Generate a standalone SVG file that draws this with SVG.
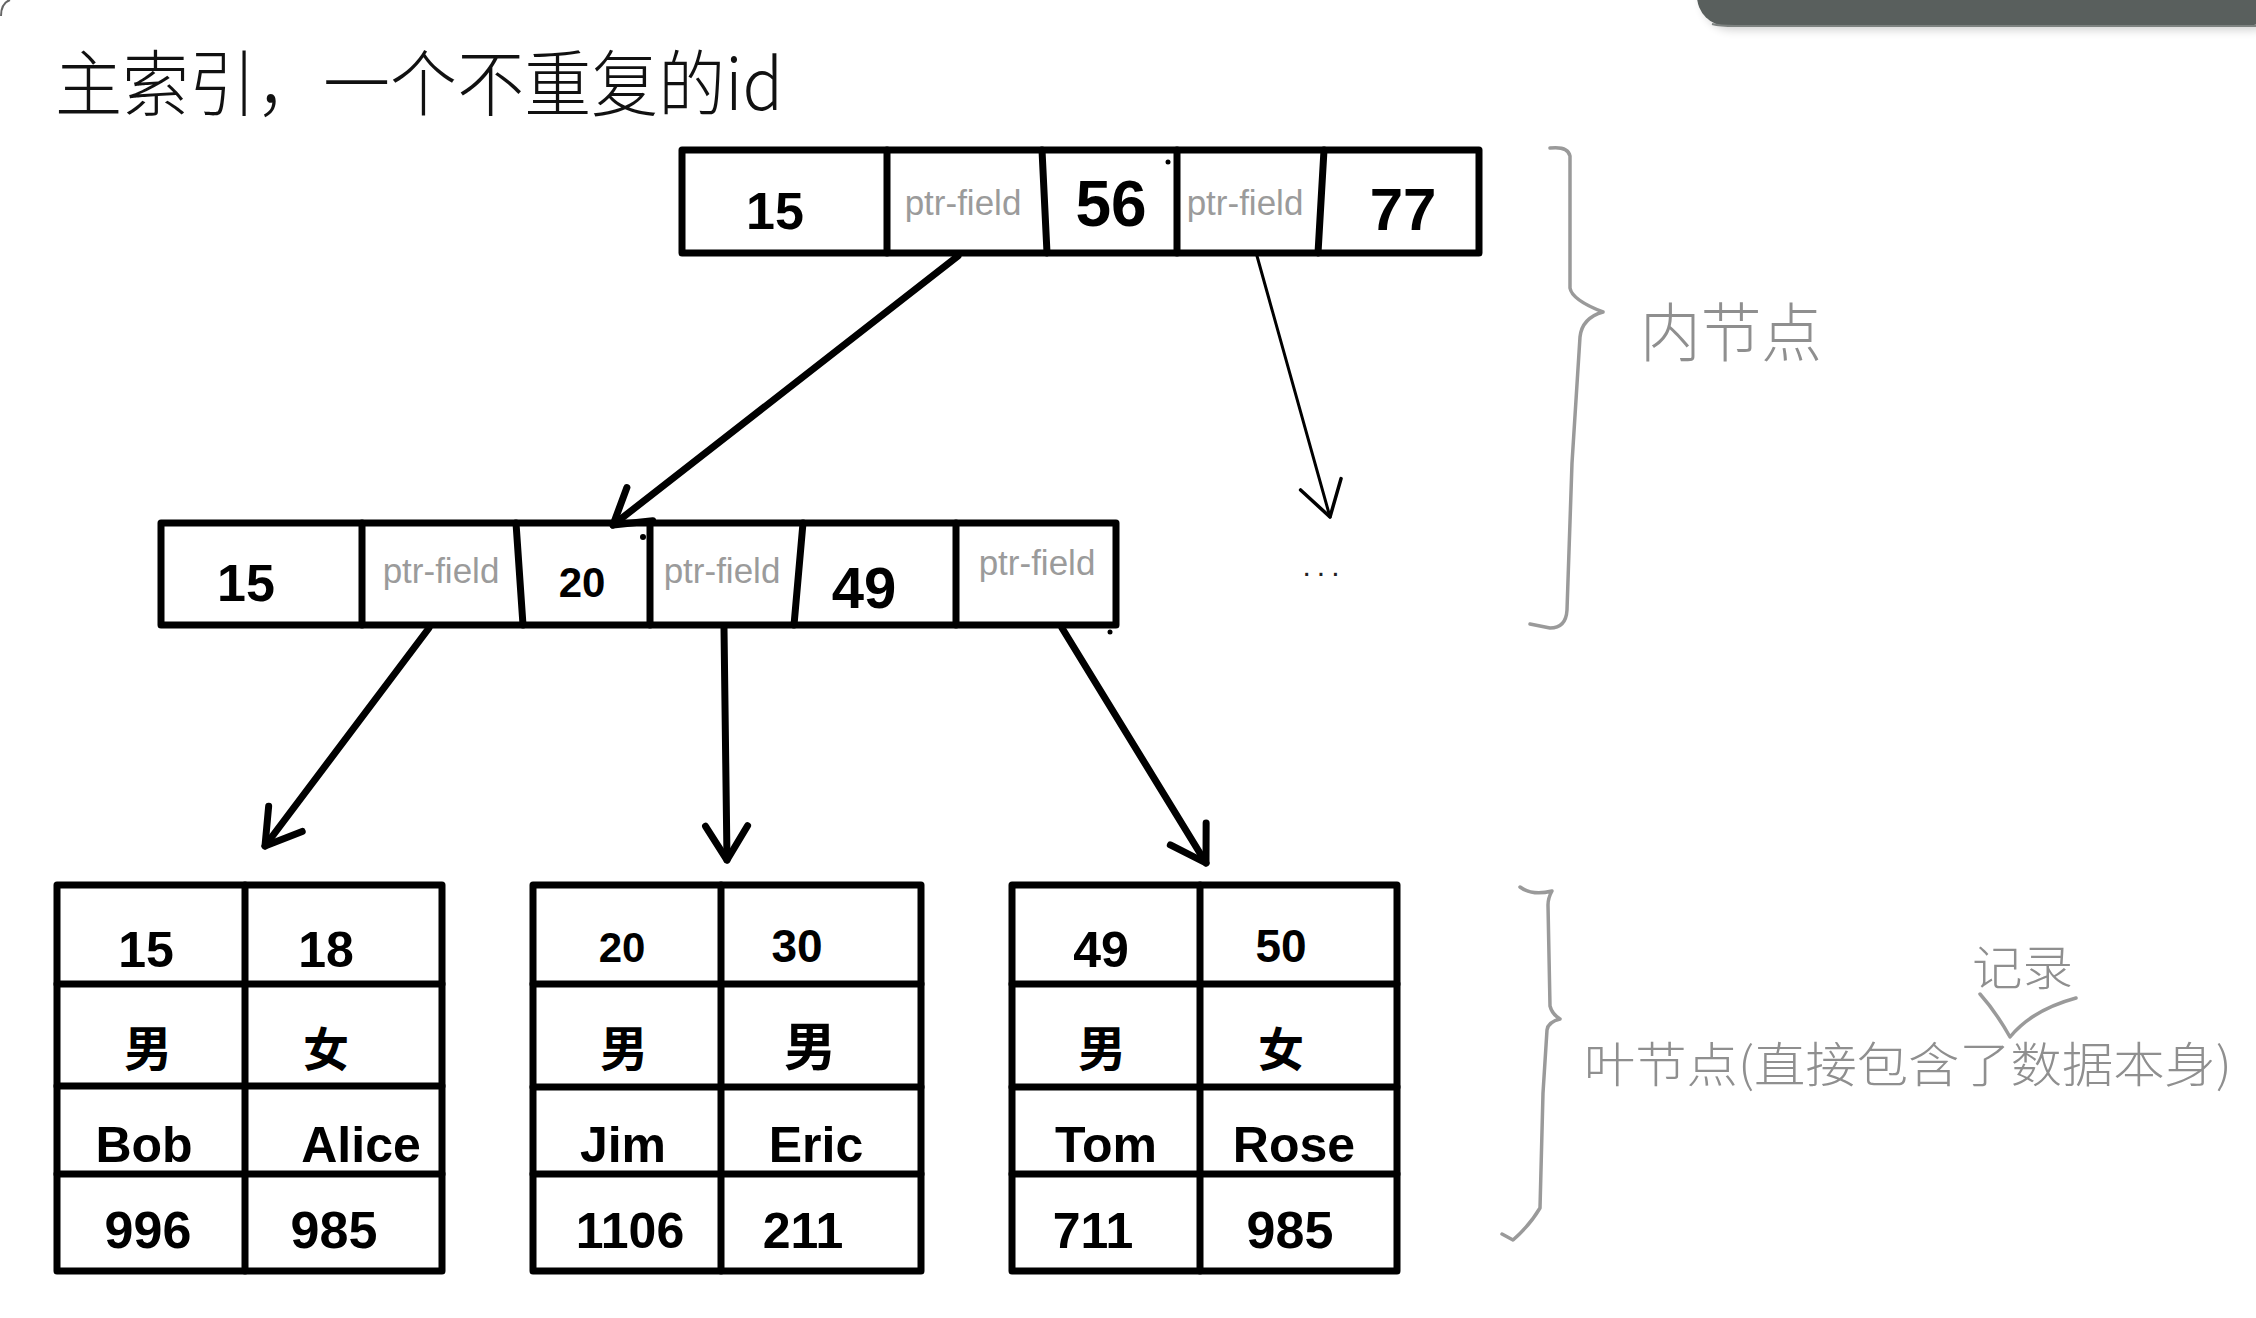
<svg xmlns="http://www.w3.org/2000/svg" width="2256" height="1318" viewBox="0 0 2256 1318">
<style>
.box{fill:#fff;stroke:#000;stroke-width:7;stroke-linejoin:round}
.div{stroke:#000;stroke-width:7;fill:none;stroke-linecap:round}
.num{font-family:"Liberation Sans",Arial,sans-serif;font-weight:bold;fill:#000;text-anchor:middle}
.cjk{font-family:"Noto Sans CJK SC","Noto Sans",sans-serif;font-weight:bold;fill:#000;text-anchor:middle}
.ptr{font-family:"Liberation Sans",Arial,sans-serif;font-size:35px;fill:#9b9b9b;text-anchor:middle}
.note{font-family:"Noto Sans CJK SC","Noto Sans",sans-serif;font-weight:300;fill:#8f8f8f}
.brace{fill:none;stroke:#9a9a9a;stroke-width:3.5;stroke-linecap:round;stroke-linejoin:round}
.thick{stroke:#000;stroke-width:7;fill:none;stroke-linecap:round}
.thin{stroke:#000;stroke-width:3;fill:none;stroke-linecap:round}
</style>
<defs>
<marker id="hThick" markerUnits="userSpaceOnUse" overflow="visible" orient="auto" refX="0" refY="0" markerWidth="10" markerHeight="10">
<path d="M-34,-21 L0,0 L-34,21" fill="none" stroke="#000" stroke-width="7" stroke-linecap="round" stroke-linejoin="round"/>
</marker>
<marker id="hThin" markerUnits="userSpaceOnUse" overflow="visible" orient="auto" refX="0" refY="0" markerWidth="10" markerHeight="10">
<path d="M-34,-21 L0,0 L-34,21" fill="none" stroke="#000" stroke-width="3.5" stroke-linecap="round" stroke-linejoin="round"/>
</marker>
<filter id="sh" x="-10%" y="-50%" width="120%" height="250%"><feGaussianBlur stdDeviation="5"/></filter>
</defs>
<rect width="2256" height="1318" fill="#fff"/>
<!-- window chrome -->
<path d="M1,16 Q1,3 10,0" fill="none" stroke="#666" stroke-width="2"/>
<rect x="1702" y="-40" width="580" height="70" rx="30" fill="#000" opacity="0.18" filter="url(#sh)"/>
<rect x="1697" y="-40" width="580" height="66" rx="30" fill="#595f5d"/>
<path d="M1712,24 Q1720,26 1735,26 L2256,26" fill="none" stroke="#7d8280" stroke-width="2"/>

<!-- title -->
<text x="55" y="110" font-size="72" textLength="728" lengthAdjust="spacingAndGlyphs" font-family="'Noto Sans CJK SC','Noto Sans',sans-serif" font-weight="300" fill="#111">主索引，一个不重复的id</text>

<!-- braces and labels -->
<g id="brace-internal">
<path class="brace" d="M1550,148 Q1568,146 1570,156 L1570,288 Q1572,300 1603,312 Q1582,318 1580,337 L1572,463 L1567,610 Q1566,628 1550,628 L1530,624"/>
<text class="note" x="1640" y="356" font-size="64" textLength="182" lengthAdjust="spacingAndGlyphs">内节点</text>
</g>
<g id="brace-leaf">
<path class="brace" d="M1520,887 Q1532,896 1552,891 Q1548,898 1548,905 L1550,1006 Q1552,1014 1560,1019 Q1548,1022 1547,1030 L1543,1093 L1540,1208 Q1530,1225 1513,1240 L1502,1234"/>
<text class="note" x="1584" y="1082" font-size="48" textLength="648" lengthAdjust="spacingAndGlyphs">叶节点(直接包含了数据本身)</text>
<text class="note" x="1972" y="985" font-size="48" textLength="101" lengthAdjust="spacingAndGlyphs">记录</text>
<path class="brace" d="M1980,994 Q1996,1012 2010,1037 Q2032,1010 2076,998"/>
</g>

<!-- root internal node -->
<g id="node-root">
<rect class="box" x="682" y="150" width="797" height="103"/>
<line class="div" x1="887" y1="150" x2="887" y2="253"/>
<line class="div" x1="1042" y1="150" x2="1047" y2="253"/>
<line class="div" x1="1177" y1="150" x2="1177" y2="253"/>
<line class="div" x1="1324" y1="150" x2="1318" y2="253"/>
<circle cx="1168" cy="162" r="2.5" fill="#000"/>
<text class="num" x="775" y="229" font-size="52">15</text>
<text class="ptr" x="963" y="215">ptr-field</text>
<text class="num" x="1111" y="226" font-size="64">56</text>
<text class="ptr" x="1245" y="215">ptr-field</text>
<text class="num" x="1403" y="230" font-size="60">77</text>
</g>

<!-- second-level internal node -->
<g id="node-internal2">
<rect class="box" x="161" y="523" width="955" height="102"/>
<line class="div" x1="362" y1="523" x2="362" y2="625"/>
<line class="div" x1="516" y1="523" x2="523" y2="625"/>
<line class="div" x1="650" y1="523" x2="650" y2="625"/>
<line class="div" x1="803" y1="523" x2="794" y2="625"/>
<line class="div" x1="956" y1="523" x2="956" y2="625"/>
<circle cx="643" cy="537" r="3" fill="#000"/>
<circle cx="1110" cy="632" r="2.5" fill="#000"/>
<text class="num" x="246" y="601" font-size="52">15</text>
<text class="ptr" x="441" y="583">ptr-field</text>
<text class="num" x="582" y="597" font-size="42">20</text>
<text class="ptr" x="722" y="583">ptr-field</text>
<text class="num" x="864" y="608" font-size="58">49</text>
<text class="ptr" x="1037" y="575">ptr-field</text>
<text x="1324" y="576" font-family="'Liberation Sans',Arial,sans-serif" font-size="30" fill="#222" text-anchor="middle" letter-spacing="6">...</text>
</g>

<!-- leaf 1 -->
<g id="leaf-1">
<rect class="box" x="57" y="885" width="385" height="386"/>
<line class="div" x1="245" y1="885" x2="245" y2="1271"/>
<line class="div" x1="57" y1="984" x2="442" y2="984"/>
<line class="div" x1="57" y1="1086" x2="442" y2="1086"/>
<line class="div" x1="57" y1="1174" x2="442" y2="1174"/>
<text class="num" x="146" y="967" font-size="50">15</text>
<text class="num" x="326" y="967" font-size="50">18</text>
<text class="cjk" x="148" y="1066" font-size="48">男</text>
<text class="cjk" x="326" y="1066" font-size="46">女</text>
<text class="num" x="144" y="1162" font-size="50">Bob</text>
<text class="num" x="361" y="1162" font-size="50">Alice</text>
<text class="num" x="148" y="1248" font-size="52">996</text>
<text class="num" x="334" y="1248" font-size="52">985</text>
</g>

<!-- leaf 2 -->
<g id="leaf-2">
<rect class="box" x="533" y="885" width="388" height="386"/>
<line class="div" x1="721" y1="885" x2="721" y2="1271"/>
<line class="div" x1="533" y1="984" x2="921" y2="984"/>
<line class="div" x1="533" y1="1087" x2="921" y2="1087"/>
<line class="div" x1="533" y1="1174" x2="921" y2="1174"/>
<text class="num" x="622" y="962" font-size="42">20</text>
<text class="num" x="797" y="962" font-size="46">30</text>
<text class="cjk" x="624" y="1066" font-size="48">男</text>
<text class="cjk" x="810" y="1066" font-size="52">男</text>
<text class="num" x="623" y="1162" font-size="50">Jim</text>
<text class="num" x="816" y="1162" font-size="50">Eric</text>
<text class="num" x="630" y="1248" font-size="50">1106</text>
<text class="num" x="803" y="1248" font-size="50">211</text>
</g>

<!-- leaf 3 -->
<g id="leaf-3">
<rect class="box" x="1012" y="885" width="385" height="386"/>
<line class="div" x1="1200" y1="885" x2="1200" y2="1271"/>
<line class="div" x1="1012" y1="984" x2="1397" y2="984"/>
<line class="div" x1="1012" y1="1087" x2="1397" y2="1087"/>
<line class="div" x1="1012" y1="1174" x2="1397" y2="1174"/>
<text class="num" x="1101" y="967" font-size="50">49</text>
<text class="num" x="1281" y="962" font-size="46">50</text>
<text class="cjk" x="1102" y="1066" font-size="48">男</text>
<text class="cjk" x="1281" y="1066" font-size="46">女</text>
<text class="num" x="1106" y="1162" font-size="50">Tom</text>
<text class="num" x="1294" y="1162" font-size="50">Rose</text>
<text class="num" x="1093" y="1248" font-size="50">711</text>
<text class="num" x="1290" y="1248" font-size="52">985</text>
</g>

<!-- connectors -->
<g id="connectors">
<line class="thick" x1="958" y1="256" x2="613" y2="525" marker-end="url(#hThick)"/>
<line class="thin" x1="1257" y1="256" x2="1330" y2="517" marker-end="url(#hThin)"/>
<line class="thick" x1="429" y1="628" x2="265" y2="846" marker-end="url(#hThick)"/>
<line class="thick" x1="724" y1="628" x2="727" y2="860" marker-end="url(#hThick)"/>
<line class="thick" x1="1062" y1="628" x2="1206" y2="863" marker-end="url(#hThick)"/>
</g>
</svg>
